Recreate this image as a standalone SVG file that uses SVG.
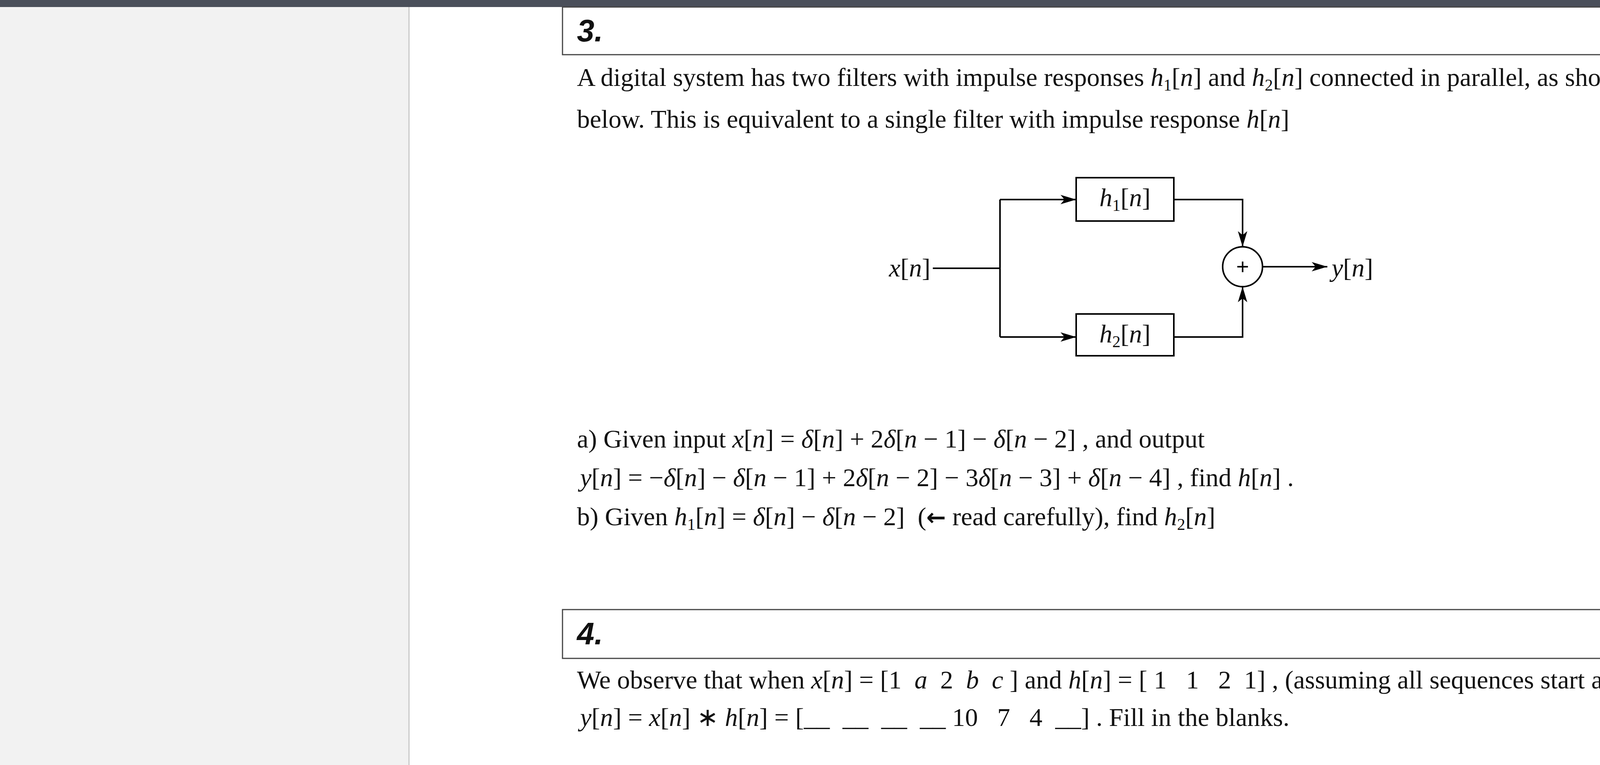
<svg xmlns="http://www.w3.org/2000/svg" width="5760" height="1959" viewBox="0 0 5760 1959">
<defs>
<marker id="a" viewBox="0 0 40 24" markerWidth="40" markerHeight="24" refX="40" refY="12" orient="auto" markerUnits="userSpaceOnUse"><path d="M0,0 L40,12 L0,24 L10,12 Z" fill="#000"/></marker>
</defs>
<style>
.t{font-family:"Liberation Serif",serif;font-size:66px;fill:#111;white-space:pre}
.i{font-style:italic}
.s{font-size:42px}
.ar{font-family:"DejaVu Sans",sans-serif;font-weight:bold;font-size:60px}
.h{font-family:"Liberation Sans",sans-serif;font-weight:bold;font-style:italic;font-size:80px;fill:#111}
.ln{stroke:#000;stroke-width:4;fill:none}
</style>
<rect width="5760" height="1959" fill="#f2f2f2"/>
<rect x="1047" y="0" width="3666" height="1959" fill="#fff"/>
<line x1="1047" y1="0" x2="1047" y2="1959" stroke="#c8c8c8" stroke-width="3"/>
<line x1="4713" y1="0" x2="4713" y2="1959" stroke="#c8c8c8" stroke-width="3"/>
<rect x="0" y="0" width="5760" height="18" fill="#4a4f5a"/>
<rect x="1440" y="18" width="2880" height="122" fill="none" stroke="#444" stroke-width="3"/>
<text class="h" x="1477" y="106">3.</text>
<text class="t" x="1477" y="220">A digital system has two filters with impulse responses <tspan class="i">h</tspan><tspan class="s" dy="12">1</tspan><tspan dy="-12">[</tspan><tspan class="i">n</tspan>] and <tspan class="i">h</tspan><tspan class="s" dy="12">2</tspan><tspan dy="-12">[</tspan><tspan class="i">n</tspan>] connected in parallel, as shown</text>
<text class="t" x="1477" y="327">below. This is equivalent to a single filter with impulse response <tspan class="i">h</tspan>[<tspan class="i">n</tspan>]</text>
<g id="h1"><rect x="2755" y="455" width="250" height="111" class="ln"/><text class="t" x="2880" y="528" text-anchor="middle"><tspan class="i">h</tspan><tspan class="s" dy="12">1</tspan><tspan dy="-12">[</tspan><tspan class="i">n</tspan>]</text></g>
<g id="h2"><rect x="2755" y="804" width="250" height="107" class="ln"/><text class="t" x="2880" y="877" text-anchor="middle"><tspan class="i">h</tspan><tspan class="s" dy="12">2</tspan><tspan dy="-12">[</tspan><tspan class="i">n</tspan>]</text></g>
<g id="sum"><circle cx="3181" cy="683" r="51" class="ln"/><text x="3181" y="702" text-anchor="middle" style="font-family:'Liberation Sans',sans-serif;font-size:56px">+</text></g>
<g id="x"><text class="t" x="2382" y="708" text-anchor="end"><tspan class="i">x</tspan>[<tspan class="i">n</tspan>]</text></g>
<g id="y"><text class="t" x="3409" y="708"><tspan class="i">y</tspan>[<tspan class="i">n</tspan>]</text></g>
<g id="connectors">
<path class="ln" d="M2388,687 H2560"/>
<path class="ln" d="M2560,511 V863"/>
<path class="ln" d="M2560,511 H2755" marker-end="url(#a)"/>
<path class="ln" d="M2560,863 H2755" marker-end="url(#a)"/>
<path class="ln" d="M3005,511 H3181 V632" marker-end="url(#a)"/>
<path class="ln" d="M3005,863 H3181 V734" marker-end="url(#a)"/>
<path class="ln" d="M3232,683 H3398" marker-end="url(#a)"/>
</g>
<text class="t" x="1477" y="1146">a) Given input <tspan class="i">x</tspan>[<tspan class="i">n</tspan>] = <tspan class="i">δ</tspan>[<tspan class="i">n</tspan>] + 2<tspan class="i">δ</tspan>[<tspan class="i">n</tspan> − 1] − <tspan class="i">δ</tspan>[<tspan class="i">n</tspan> − 2] , and output</text>
<text class="t" x="1485" y="1245"><tspan class="i">y</tspan>[<tspan class="i">n</tspan>] = −<tspan class="i">δ</tspan>[<tspan class="i">n</tspan>] − <tspan class="i">δ</tspan>[<tspan class="i">n</tspan> − 1] + 2<tspan class="i">δ</tspan>[<tspan class="i">n</tspan> − 2] − 3<tspan class="i">δ</tspan>[<tspan class="i">n</tspan> − 3] + <tspan class="i">δ</tspan>[<tspan class="i">n</tspan> − 4] , find <tspan class="i">h</tspan>[<tspan class="i">n</tspan>] .</text>
<text class="t" x="1477" y="1345">b) Given <tspan class="i">h</tspan><tspan class="s" dy="12">1</tspan><tspan dy="-12">[</tspan><tspan class="i">n</tspan>] = <tspan class="i">δ</tspan>[<tspan class="i">n</tspan>] − <tspan class="i">δ</tspan>[<tspan class="i">n</tspan> − 2]  (<tspan class="ar">←</tspan> read carefully), find <tspan class="i">h</tspan><tspan class="s" dy="12">2</tspan><tspan dy="-12">[</tspan><tspan class="i">n</tspan>]</text>
<rect x="1440" y="1561" width="2880" height="125" fill="none" stroke="#444" stroke-width="3"/>
<text class="h" x="1477" y="1650">4.</text>
<text class="t" x="1477" y="1763">We observe that when <tspan class="i">x</tspan>[<tspan class="i">n</tspan>] = [1  <tspan class="i">a</tspan>  2  <tspan class="i">b</tspan>  <tspan class="i">c</tspan> ] and <tspan class="i">h</tspan>[<tspan class="i">n</tspan>] = [ 1   1   2  1] , (assuming all sequences start at <tspan class="i">n</tspan> = 0 ), then</text>
<text class="t" x="1485" y="1859"><tspan class="i">y</tspan>[<tspan class="i">n</tspan>] = <tspan class="i">x</tspan>[<tspan class="i">n</tspan>] ∗ <tspan class="i">h</tspan>[<tspan class="i">n</tspan>] = [__  __  __  __ 10   7   4  __] . Fill in the blanks.</text>
</svg>
